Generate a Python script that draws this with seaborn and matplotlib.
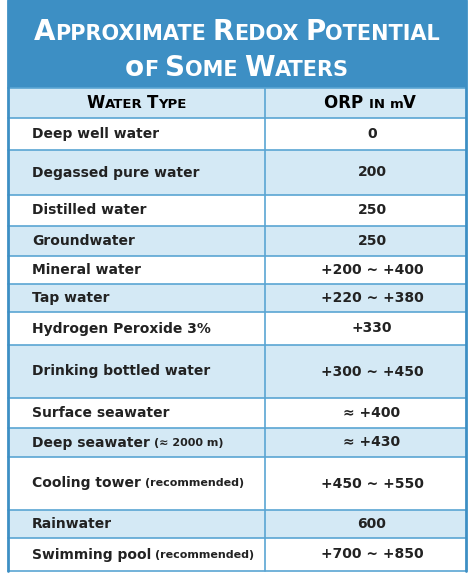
import matplotlib
matplotlib.use("Agg")
import matplotlib.pyplot as plt
import seaborn as sns
from matplotlib.offsetbox import TextArea, HPacker, AnnotationBbox

sns.set_theme(style="white")
plt.rcParams['font.family'] = ['DejaVu Sans']

water_types = ["Deep well water", "Degassed pure water", "Distilled water", "Groundwater",
               "Mineral water", "Tap water", "Hydrogen Peroxide 3%", "Drinking bottled water",
               "Surface seawater", "Deep seawater", "Cooling tower", "Rainwater", "Swimming pool"]
notes = ["", "", "", "", "", "", "", "", "", "(≈ 2000 m)", "(recommended)", "", "(recommended)"]
orp_values = ["0", "200", "250", "250", "+200 ~ +400", "+220 ~ +380", "+330", "+300 ~ +450",
              "≈ +400", "≈ +430", "+450 ~ +550", "600", "+700 ~ +850"]
row_edges = [118, 150, 195, 226, 256, 284, 312, 345, 398, 428, 457, 510, 538, 571]

BLUE = "#3d8fc4"
LIGHT = "#d4e9f5"
LINE = "#5aa5d3"

fig = plt.figure(figsize=(4.74, 5.85), dpi=100)
ax = fig.add_axes([0, 0, 1, 1])
ax.set_xlim(0, 474); ax.set_ylim(585, 0); ax.axis("off")

L, R, MID = 8, 466, 265
ax.fill_between([L, R], 0, 88, color=BLUE, lw=0)
ax.fill_between([L, R], 88, 118, color=LIGHT, lw=0)
for i in range(len(water_types)):
    top, bot = row_edges[i], row_edges[i+1]
    ax.fill_between([L, R], top, bot, color=(LIGHT if i % 2 else "white"), lw=0)
for y in [88] + row_edges:
    ax.plot([L, R], [y, y], color=LINE, lw=1.2)
ax.plot([MID, MID], [88, row_edges[-1]], color=LINE, lw=1.2)
ax.plot([L, L], [0, row_edges[-1]], color=BLUE, lw=2)
ax.plot([R, R], [0, row_edges[-1]], color=BLUE, lw=2)

def smallcaps(words, big, small, color, x, y):
    parts = []
    for w in words:
        parts.append(TextArea(w[0], textprops=dict(size=big, weight="bold", color=color)))
        if len(w) > 1:
            parts.append(TextArea(w[1:].upper(), textprops=dict(size=small, weight="bold", color=color)))
        parts.append(TextArea(" ", textprops=dict(size=small, color=color)))
    parts = parts[:-1]
    box = HPacker(children=parts, align="baseline", pad=0, sep=0)
    ab = AnnotationBbox(box, (x, y), xycoords="data", frameon=False, box_alignment=(0.5, 0.5))
    ax.add_artist(ab)

smallcaps(["Approximate", "Redox", "Potential"], 20, 15, "white", 237, 32)
smallcaps(["of", "Some", "Waters"], 20, 15, "white", 237, 68)
smallcaps(["Water", "Type"], 12, 9.5, "black", 137, 103)
hdr = HPacker(children=[TextArea("ORP ", textprops=dict(size=12, weight="bold", color="black")),
                        TextArea("IN ", textprops=dict(size=9.5, weight="bold", color="black")),
                        TextArea("m", textprops=dict(size=9.5, weight="bold", color="black")),
                        TextArea("V", textprops=dict(size=12, weight="bold", color="black"))],
              align="baseline", pad=0, sep=0)
ax.add_artist(AnnotationBbox(hdr, (370, 103), frameon=False, box_alignment=(0.5, 0.5)))

for i, (name, note, val) in enumerate(zip(water_types, notes, orp_values)):
    yc = (row_edges[i] + row_edges[i+1]) / 2
    t = ax.text(32, yc, name, ha="left", va="center", fontsize=10, weight="bold", color="#222222")
    if note:
        fig.canvas.draw()
        bb = t.get_window_extent()
        ax.annotate(note, xy=(bb.x1 + 4, fig.bbox.height - yc), xycoords="figure pixels",
                    ha="left", va="center", fontsize=8, weight="bold", color="#222222")
    ax.text(372, yc, val, ha="center", va="center", fontsize=10, weight="bold", color="#222222")

fig.savefig("out.png", dpi=100)
